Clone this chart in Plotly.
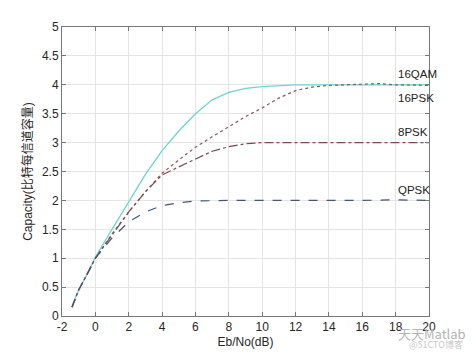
import plotly.graph_objects as go

x_qam16 = [-1.4, -1.0, -0.5, 0, 1, 2, 3, 4, 5, 6, 7, 8, 9, 10, 12, 14, 16, 18, 20]
y_qam16 = [0.18, 0.45, 0.72, 1.02, 1.5, 1.97, 2.45, 2.86, 3.2, 3.5, 3.74, 3.87, 3.94, 3.97, 4.0, 4.0, 4.0, 4.0, 4.0]

x_psk16 = [-1.4, -1.0, -0.5, 0, 1, 2, 3, 4, 5, 6, 7, 8, 9, 10, 11, 12, 13, 14, 16, 17, 18, 20]
y_psk16 = [0.15, 0.45, 0.72, 1.0, 1.42, 1.8, 2.15, 2.47, 2.7, 2.92, 3.1, 3.27, 3.45, 3.6, 3.77, 3.9, 3.96, 3.99, 4.01, 4.02, 4.0, 3.99]

x_psk8 = [-1.4, -1.0, -0.5, 0, 1, 2, 3, 4, 5, 6, 7, 8, 9, 10, 12, 14, 16, 18, 20]
y_psk8 = [0.15, 0.45, 0.72, 1.0, 1.4, 1.8, 2.15, 2.44, 2.58, 2.71, 2.85, 2.93, 2.98, 3.0, 3.0, 3.01, 3.0, 3.0, 3.0]

x_qpsk = [-1.4, -1.0, -0.5, 0, 1, 2, 3, 4, 5, 6, 8, 10, 12, 14, 16, 18, 20]
y_qpsk = [0.15, 0.45, 0.72, 1.0, 1.35, 1.63, 1.8, 1.91, 1.96, 1.99, 2.0, 2.0, 1.99, 2.0, 2.0, 2.01, 2.0]

labels = ["16QAM", "16PSK", "8PSK", "QPSK"]
label_x = [18, 18, 18, 18]
label_y = [4.19, 3.78, 3.19, 2.18]

x_ticks = [-2, 0, 2, 4, 6, 8, 10, 12, 14, 16, 18, 20]
y_ticks = [0, 0.5, 1, 1.5, 2, 2.5, 3, 3.5, 4, 4.5, 5]

fig = go.Figure()
fig.add_trace(go.Scatter(x=x_qam16, y=y_qam16, mode="lines",
                         line=dict(color="#6fd4d4", width=1.3), name="16QAM"))
fig.add_trace(go.Scatter(x=x_psk16, y=y_psk16, mode="lines",
                         line=dict(color="#8a5858", width=1.2, dash="dot"), name="16PSK"))
fig.add_trace(go.Scatter(x=x_psk8, y=y_psk8, mode="lines",
                         line=dict(color="#7a4a55", width=1.2, dash="dashdot"), name="8PSK"))
fig.add_trace(go.Scatter(x=x_qpsk, y=y_qpsk, mode="lines",
                         line=dict(color="#4a5370", width=1.2, dash="dash"), name="QPSK"))

for t, xx, yy in zip(labels, label_x, label_y):
    fig.add_annotation(x=xx, y=yy, text=t, showarrow=False, xanchor="left",
                       yanchor="middle", font=dict(size=11.5, color="#222222",
                                                   family="Liberation Sans, Arial"))

# page body has an 8px margin, so the figure is drawn 8px smaller and shifted
OFF = 8
W, H = 474 - OFF, 355 - OFF
L, R, T, B = 62 - OFF, 45, 27 - OFF, 39
pw, ph = W - L - R, H - T - B

wm = [("天天Matlab", 396, 333, 13, "#b4b4b4"), ("@51CTO博客", 407, 344, 9, "#c8c8c8")]
for t, px, py, fs, col in wm:
    fig.add_annotation(x=(px - OFF - L) / pw, y=(H - B - (py - OFF)) / ph,
                       xref="paper", yref="paper", text=t, showarrow=False,
                       xanchor="left", yanchor="middle",
                       font=dict(size=fs, color=col, family="Noto Sans CJK SC"))

axis_common = dict(showgrid=True, gridcolor="#e4e4e4", gridwidth=1, zeroline=False,
                   showline=True, linecolor="#777777", linewidth=1, mirror="ticks",
                   ticks="inside", ticklen=4, tickcolor="#777777", automargin=False,
                   tickfont=dict(size=12, color="#262626", family="Liberation Sans, Arial"))

fig.update_layout(
    width=W, height=H,
    margin=dict(l=L, r=R, t=T, b=B),
    paper_bgcolor="white", plot_bgcolor="white",
    showlegend=False,
    xaxis=dict(range=[-2, 20], tickvals=x_ticks, ticktext=[str(v) for v in x_ticks],
               title=dict(text="Eb/No(dB)", standoff=4,
                          font=dict(size=12, color="#262626", family="Liberation Sans, Arial")),
               **axis_common),
    yaxis=dict(range=[0, 5], tickvals=y_ticks, ticktext=[f"{v:g}" for v in y_ticks],
               title=dict(text="Capacity(比特每信道容量)", standoff=6,
                          font=dict(size=12, color="#262626", family="Liberation Sans, Noto Sans CJK SC")),
               **axis_common),
)

fig.write_html("out.html")
